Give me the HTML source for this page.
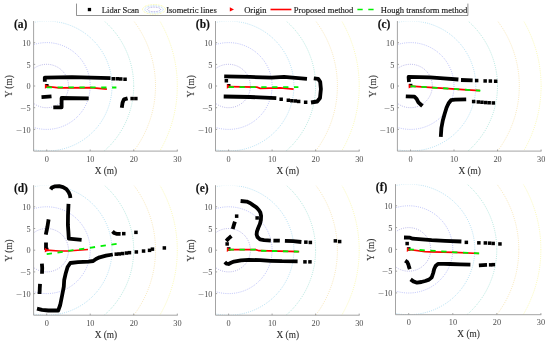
<!DOCTYPE html>
<html><head><meta charset="utf-8"><title>Lidar scan figure</title>
<style>
html,body{margin:0;padding:0;background:#fff;}
svg{display:block;}
text{font-family:"Liberation Serif",serif;}
.t{font-size:8.3px;fill:#4c4c4c;}
.l{font-size:9.3px;fill:#333;stroke:#333;stroke-width:0.12;}
.b{font-size:11.5px;font-weight:bold;fill:#111;stroke:#111;stroke-width:0.15;}
.lg{font-size:8.55px;fill:#1a1a1a;stroke:#1a1a1a;stroke-width:0.15;}
.ax{fill:none;stroke:#9a9a9a;stroke-width:0.9;}
.iso{fill:none;stroke-width:0.6;stroke-dasharray:1 1.2;opacity:0.62;}
.w{fill:none;stroke:#000;stroke-width:3.8;stroke-linejoin:round;stroke-linecap:butt;}
.s{fill:#000;}
.r{fill:none;stroke:#ff0000;stroke-width:1.7;}
.g{fill:none;stroke:#00f000;stroke-width:1.8;stroke-dasharray:5.3 5.6;}
</style></head><body>
<svg width="550" height="344" viewBox="0 0 550 344">
<rect width="550" height="344" fill="#fff"/>
<defs><clipPath id="c00"><rect x="33.6" y="21.5" width="144.6" height="129.6"/></clipPath><clipPath id="c01"><rect x="33.6" y="185.7" width="144.6" height="129.6"/></clipPath><clipPath id="c10"><rect x="215.5" y="21.5" width="144.6" height="129.6"/></clipPath><clipPath id="c11"><rect x="215.5" y="185.7" width="144.6" height="129.6"/></clipPath><clipPath id="c20"><rect x="397.4" y="21.5" width="144.6" height="129.6"/></clipPath><clipPath id="c21"><rect x="395.5" y="184.6" width="146.4" height="130.2"/></clipPath></defs>
<g clip-path="url(#c00)">
<ellipse class="iso" cx="46.7" cy="86.0" rx="21.8" ry="21.7" stroke="#4a44c6"/>
<ellipse class="iso" cx="46.7" cy="86.0" rx="43.5" ry="43.4" stroke="#5260ee"/>
<ellipse class="iso" cx="46.7" cy="86.0" rx="65.3" ry="65.0" stroke="#40b0e0"/>
<ellipse class="iso" cx="46.7" cy="86.0" rx="87.0" ry="86.7" stroke="#3cc0aa"/>
<ellipse class="iso" cx="46.7" cy="86.0" rx="108.8" ry="108.4" stroke="#ecc046"/>
<ellipse class="iso" cx="46.7" cy="86.0" rx="130.6" ry="130.1" stroke="#f2ee3a"/>
</g>
<path class="ax" d="M33.6 21.0V151.1H177.7"/>
<path class="ax" d="M46.7 151.1v-1.6M90.2 151.1v-1.6M133.7 151.1v-1.6M177.3 151.1v-1.6M33.6 129.4h1.6M33.6 107.7h1.6M33.6 86.0h1.6M33.6 64.4h1.6M33.6 42.7h1.6"/>
<text class="t" text-anchor="middle" x="46.8" y="161.8">0</text>
<text class="t" text-anchor="middle" x="90.3" y="161.8">10</text>
<text class="t" text-anchor="middle" x="133.8" y="161.8">20</text>
<text class="t" text-anchor="middle" x="177.4" y="161.8">30</text>
<text class="t" text-anchor="end" x="30.6" y="132.6">10</text>
<text class="t" text-anchor="end" transform="translate(22.4 132.6) scale(1.3 1)">−</text>
<text class="t" text-anchor="end" x="30.6" y="110.9">5</text>
<text class="t" text-anchor="end" transform="translate(26.6 110.9) scale(1.3 1)">−</text>
<text class="t" text-anchor="end" x="30.6" y="89.2">0</text>
<text class="t" text-anchor="end" x="30.6" y="67.6">5</text>
<text class="t" text-anchor="end" x="30.6" y="45.9">10</text>
<text class="l" text-anchor="middle" x="105.9" y="173.6">X (m)</text>
<text class="l" text-anchor="middle" transform="translate(12.0 86.3) rotate(-90)">Y (m)</text>
<text class="b" x="13.9" y="28.0">(a)</text>
<polyline class="w" points="44.8,81.8 44.8,77.6 72.0,77.2 110.5,78.2"/>
<rect class="s" x="111.5" y="77.0" width="3.5" height="3.5"/><rect class="s" x="115.5" y="77.0" width="3.5" height="3.5"/><rect class="s" x="119.0" y="77.2" width="3.5" height="3.5"/><rect class="s" x="123.3" y="77.5" width="3.5" height="3.5"/>
<polyline class="w" points="41.5,97.2 51.5,96.4"/>
<polyline class="w" points="53.3,107.3 61.6,107.3 61.6,98.0 88.7,98.3"/>
<polyline class="w" points="121.8,107.8 122.6,102.5 124.0,99.4 127.6,98.4"/>
<rect class="s" x="130.4" y="96.8" width="3.5" height="3.5"/><rect class="s" x="134.1" y="96.8" width="3.5" height="3.5"/>
<rect class="s" x="45.1" y="84.0" width="3.5" height="3.5"/>
<path fill="#ff0000" d="M44.9 84.1l3.8 2.3l-3.8 2.3z"/>
<polyline class="r" points="46.7,86.4 58.9,87.9 90.9,87.7 106.9,89.2"/>
<polyline class="g" points="46.7,87.4 116.4,87.5"/>
<g clip-path="url(#c10)">
<ellipse class="iso" cx="228.6" cy="86.0" rx="21.8" ry="21.7" stroke="#4a44c6"/>
<ellipse class="iso" cx="228.6" cy="86.0" rx="43.5" ry="43.4" stroke="#5260ee"/>
<ellipse class="iso" cx="228.6" cy="86.0" rx="65.3" ry="65.0" stroke="#40b0e0"/>
<ellipse class="iso" cx="228.6" cy="86.0" rx="87.0" ry="86.7" stroke="#3cc0aa"/>
<ellipse class="iso" cx="228.6" cy="86.0" rx="108.8" ry="108.4" stroke="#ecc046"/>
<ellipse class="iso" cx="228.6" cy="86.0" rx="130.6" ry="130.1" stroke="#f2ee3a"/>
</g>
<path class="ax" d="M215.5 21.0V151.1H359.6"/>
<path class="ax" d="M228.6 151.1v-1.6M272.1 151.1v-1.6M315.6 151.1v-1.6M359.2 151.1v-1.6M215.5 129.4h1.6M215.5 107.7h1.6M215.5 86.0h1.6M215.5 64.4h1.6M215.5 42.7h1.6"/>
<text class="t" text-anchor="middle" x="228.7" y="161.8">0</text>
<text class="t" text-anchor="middle" x="272.2" y="161.8">10</text>
<text class="t" text-anchor="middle" x="315.7" y="161.8">20</text>
<text class="t" text-anchor="middle" x="359.3" y="161.8">30</text>
<text class="t" text-anchor="end" x="212.5" y="132.6">10</text>
<text class="t" text-anchor="end" transform="translate(204.3 132.6) scale(1.3 1)">−</text>
<text class="t" text-anchor="end" x="212.5" y="110.9">5</text>
<text class="t" text-anchor="end" transform="translate(208.5 110.9) scale(1.3 1)">−</text>
<text class="t" text-anchor="end" x="212.5" y="89.2">0</text>
<text class="t" text-anchor="end" x="212.5" y="67.6">5</text>
<text class="t" text-anchor="end" x="212.5" y="45.9">10</text>
<text class="l" text-anchor="middle" x="287.8" y="173.6">X (m)</text>
<text class="l" text-anchor="middle" transform="translate(193.9 86.3) rotate(-90)">Y (m)</text>
<text class="b" x="195.8" y="28.0">(b)</text>
<polyline class="w" points="224.2,76.3 250.0,76.9 271.7,77.6 284.0,76.9 307.0,78.8"/>
<rect class="s" x="224.6" y="79.0" width="3.5" height="3.5"/>
<polyline class="w" points="223.7,96.5 250.0,97.0 276.3,98.1"/>
<rect class="s" x="279.4" y="97.5" width="3.5" height="3.5"/><rect class="s" x="286.6" y="98.5" width="3.5" height="3.5"/><rect class="s" x="290.1" y="99.0" width="3.5" height="3.5"/><rect class="s" x="293.6" y="99.2" width="3.5" height="3.5"/><rect class="s" x="296.9" y="99.7" width="3.5" height="3.5"/><rect class="s" x="303.9" y="100.5" width="3.5" height="3.5"/>
<polyline class="w" points="311.0,102.5 317.2,101.5 320.0,98.0 320.9,89.0 320.2,81.8 318.2,78.9 313.8,78.4"/>
<rect class="s" x="227.0" y="84.0" width="3.5" height="3.5"/>
<path fill="#ff0000" d="M226.8 84.1l3.8 2.3l-3.8 2.3z"/>
<polyline class="r" points="228.6,86.7 256.9,87.2 260.1,88.3 280.2,87.9 293.6,89.2"/>
<polyline class="g" points="228.6,87.1 298.4,87.2"/>
<g clip-path="url(#c20)">
<ellipse class="iso" cx="410.5" cy="86.0" rx="21.8" ry="21.7" stroke="#4a44c6"/>
<ellipse class="iso" cx="410.5" cy="86.0" rx="43.5" ry="43.4" stroke="#5260ee"/>
<ellipse class="iso" cx="410.5" cy="86.0" rx="65.3" ry="65.0" stroke="#40b0e0"/>
<ellipse class="iso" cx="410.5" cy="86.0" rx="87.0" ry="86.7" stroke="#3cc0aa"/>
<ellipse class="iso" cx="410.5" cy="86.0" rx="108.8" ry="108.4" stroke="#ecc046"/>
<ellipse class="iso" cx="410.5" cy="86.0" rx="130.6" ry="130.1" stroke="#f2ee3a"/>
</g>
<path class="ax" d="M397.4 21.0V151.1H541.5"/>
<path class="ax" d="M410.5 151.1v-1.6M454.0 151.1v-1.6M497.5 151.1v-1.6M541.1 151.1v-1.6M397.4 129.4h1.6M397.4 107.7h1.6M397.4 86.0h1.6M397.4 64.4h1.6M397.4 42.7h1.6"/>
<text class="t" text-anchor="middle" x="410.6" y="161.8">0</text>
<text class="t" text-anchor="middle" x="454.1" y="161.8">10</text>
<text class="t" text-anchor="middle" x="497.6" y="161.8">20</text>
<text class="t" text-anchor="middle" x="541.2" y="161.8">30</text>
<text class="t" text-anchor="end" x="394.4" y="132.6">10</text>
<text class="t" text-anchor="end" transform="translate(386.2 132.6) scale(1.3 1)">−</text>
<text class="t" text-anchor="end" x="394.4" y="110.9">5</text>
<text class="t" text-anchor="end" transform="translate(390.4 110.9) scale(1.3 1)">−</text>
<text class="t" text-anchor="end" x="394.4" y="89.2">0</text>
<text class="t" text-anchor="end" x="394.4" y="67.6">5</text>
<text class="t" text-anchor="end" x="394.4" y="45.9">10</text>
<text class="l" text-anchor="middle" x="469.7" y="173.6">X (m)</text>
<text class="l" text-anchor="middle" transform="translate(375.8 86.3) rotate(-90)">Y (m)</text>
<text class="b" x="377.7" y="28.0">(c)</text>
<polyline class="w" points="409.0,82.0 408.6,76.8 430.0,77.4 443.6,78.4 458.4,79.5"/>
<polyline class="w" points="461.0,80.0 472.6,80.4"/>
<rect class="s" x="474.9" y="78.8" width="3.5" height="3.5"/><rect class="s" x="483.4" y="79.2" width="3.5" height="3.5"/><rect class="s" x="488.6" y="79.3" width="3.5" height="3.5"/><rect class="s" x="493.9" y="79.5" width="3.5" height="3.5"/>
<polyline class="w" points="405.8,96.3 414.4,96.7 416.6,98.8 418.4,102.3 422.4,106.0"/>
<polyline class="w" points="440.8,136.8 441.4,128.0 442.8,120.5 444.6,114.0 446.6,107.5 448.6,103.2 451.0,100.2 455.0,99.6 466.2,99.4"/>
<rect class="s" x="471.9" y="99.8" width="3.5" height="3.5"/><rect class="s" x="476.6" y="100.2" width="3.5" height="3.5"/><rect class="s" x="480.2" y="100.5" width="3.5" height="3.5"/><rect class="s" x="483.9" y="100.8" width="3.5" height="3.5"/><rect class="s" x="487.4" y="101.0" width="3.5" height="3.5"/><rect class="s" x="491.6" y="101.2" width="3.5" height="3.5"/>
<rect class="s" x="408.9" y="83.8" width="3.5" height="3.5"/>
<path fill="#ff0000" d="M408.7 83.9l3.8 2.3l-3.8 2.3z"/>
<polyline class="r" points="410.5,86.2 448.6,88.6 463.0,89.6 480.0,90.7"/>
<polyline class="g" points="410.5,86.2 448.6,88.6 463.0,89.6 480.4,90.7"/>
<g clip-path="url(#c01)">
<ellipse class="iso" cx="46.7" cy="250.2" rx="21.8" ry="21.7" stroke="#4a44c6"/>
<ellipse class="iso" cx="46.7" cy="250.2" rx="43.5" ry="43.4" stroke="#5260ee"/>
<ellipse class="iso" cx="46.7" cy="250.2" rx="65.3" ry="65.0" stroke="#40b0e0"/>
<ellipse class="iso" cx="46.7" cy="250.2" rx="87.0" ry="86.7" stroke="#3cc0aa"/>
<ellipse class="iso" cx="46.7" cy="250.2" rx="108.8" ry="108.4" stroke="#ecc046"/>
<ellipse class="iso" cx="46.7" cy="250.2" rx="130.6" ry="130.1" stroke="#f2ee3a"/>
</g>
<path class="ax" d="M33.6 185.2V315.2H177.7"/>
<path class="ax" d="M46.7 315.2v-1.6M90.2 315.2v-1.6M133.7 315.2v-1.6M177.3 315.2v-1.6M33.6 293.6h1.6M33.6 271.9h1.6M33.6 250.2h1.6M33.6 228.5h1.6M33.6 206.8h1.6"/>
<text class="t" text-anchor="middle" x="46.8" y="325.9">0</text>
<text class="t" text-anchor="middle" x="90.3" y="325.9">10</text>
<text class="t" text-anchor="middle" x="133.8" y="325.9">20</text>
<text class="t" text-anchor="middle" x="177.4" y="325.9">30</text>
<text class="t" text-anchor="end" x="30.6" y="296.8">10</text>
<text class="t" text-anchor="end" transform="translate(22.4 296.8) scale(1.3 1)">−</text>
<text class="t" text-anchor="end" x="30.6" y="275.1">5</text>
<text class="t" text-anchor="end" transform="translate(26.6 275.1) scale(1.3 1)">−</text>
<text class="t" text-anchor="end" x="30.6" y="253.4">0</text>
<text class="t" text-anchor="end" x="30.6" y="231.7">5</text>
<text class="t" text-anchor="end" x="30.6" y="210.0">10</text>
<text class="l" text-anchor="middle" x="105.9" y="337.7">X (m)</text>
<text class="l" text-anchor="middle" transform="translate(12.0 250.5) rotate(-90)">Y (m)</text>
<text class="b" x="13.9" y="192.2">(d)</text>
<polyline class="w" points="50.6,189.4 52.0,187.5 54.5,186.4 59.2,186.1 63.0,187.1 66.4,189.2 68.8,192.4 70.0,195.2 70.4,198.0"/>
<polyline class="w" points="68.5,203.8 68.0,215.0 67.9,225.0 68.4,232.0 68.8,238.6 81.6,239.8"/>
<polyline class="w" points="48.6,219.4 47.4,227.0 45.8,234.6"/>
<polyline class="w" points="46.0,242.5 46.0,249.8"/>
<polyline class="w" points="37.0,308.6 42.0,309.8 48.3,310.5 58.2,310.5 60.2,305.0 62.2,295.0 63.8,286.6 64.2,280.0 65.6,273.8 67.6,267.0 70.3,263.0 78.0,262.2 88.6,261.6 93.2,261.0 96.0,259.0 99.6,257.3 106.0,255.7 112.8,254.5"/>
<rect class="s" x="114.5" y="252.4" width="3.5" height="3.5"/><rect class="s" x="117.5" y="252.2" width="3.5" height="3.5"/><rect class="s" x="120.8" y="251.8" width="3.5" height="3.5"/><rect class="s" x="124.7" y="251.3" width="3.5" height="3.5"/><rect class="s" x="127.7" y="250.9" width="3.5" height="3.5"/><rect class="s" x="134.6" y="250.2" width="3.5" height="3.5"/><rect class="s" x="141.8" y="249.3" width="3.5" height="3.5"/><rect class="s" x="147.8" y="248.6" width="3.5" height="3.5"/><rect class="s" x="150.7" y="247.4" width="3.5" height="3.5"/><rect class="s" x="162.6" y="246.2" width="3.5" height="3.5"/>
<polyline class="w" points="41.9,263.7 42.2,268.0 42.0,273.8"/>
<polyline class="w" points="40.0,283.9 39.5,294.0"/>
<polyline class="w" points="112.5,231.4 114.2,233.0 116.4,233.8 120.6,233.9"/>
<rect class="s" x="122.0" y="231.9" width="3.5" height="3.5"/><rect class="s" x="134.2" y="230.6" width="3.5" height="3.5"/>
<rect class="s" x="45.0" y="247.7" width="3.5" height="3.5"/>
<path fill="#ff0000" d="M44.8 247.8l3.8 2.3l-3.8 2.3z"/>
<polyline class="r" points="46.7,250.1 58.9,251.0 67.6,251.0 88.0,249.5"/>
<polyline class="g" points="46.7,254.2 117.1,243.7"/>
<g clip-path="url(#c11)">
<ellipse class="iso" cx="228.6" cy="250.2" rx="21.8" ry="21.7" stroke="#4a44c6"/>
<ellipse class="iso" cx="228.6" cy="250.2" rx="43.5" ry="43.4" stroke="#5260ee"/>
<ellipse class="iso" cx="228.6" cy="250.2" rx="65.3" ry="65.0" stroke="#40b0e0"/>
<ellipse class="iso" cx="228.6" cy="250.2" rx="87.0" ry="86.7" stroke="#3cc0aa"/>
<ellipse class="iso" cx="228.6" cy="250.2" rx="108.8" ry="108.4" stroke="#ecc046"/>
<ellipse class="iso" cx="228.6" cy="250.2" rx="130.6" ry="130.1" stroke="#f2ee3a"/>
</g>
<path class="ax" d="M215.5 185.2V315.2H359.6"/>
<path class="ax" d="M228.6 315.2v-1.6M272.1 315.2v-1.6M315.6 315.2v-1.6M359.2 315.2v-1.6M215.5 293.6h1.6M215.5 271.9h1.6M215.5 250.2h1.6M215.5 228.5h1.6M215.5 206.8h1.6"/>
<text class="t" text-anchor="middle" x="228.7" y="325.9">0</text>
<text class="t" text-anchor="middle" x="272.2" y="325.9">10</text>
<text class="t" text-anchor="middle" x="315.7" y="325.9">20</text>
<text class="t" text-anchor="middle" x="359.3" y="325.9">30</text>
<text class="t" text-anchor="end" x="212.5" y="296.8">10</text>
<text class="t" text-anchor="end" transform="translate(204.3 296.8) scale(1.3 1)">−</text>
<text class="t" text-anchor="end" x="212.5" y="275.1">5</text>
<text class="t" text-anchor="end" transform="translate(208.5 275.1) scale(1.3 1)">−</text>
<text class="t" text-anchor="end" x="212.5" y="253.4">0</text>
<text class="t" text-anchor="end" x="212.5" y="231.7">5</text>
<text class="t" text-anchor="end" x="212.5" y="210.0">10</text>
<text class="l" text-anchor="middle" x="287.8" y="337.7">X (m)</text>
<text class="l" text-anchor="middle" transform="translate(193.9 250.5) rotate(-90)">Y (m)</text>
<text class="b" x="195.8" y="192.2">(e)</text>
<polyline class="w" points="240.6,201.0 246.8,201.6 250.4,203.2 253.4,205.4 256.4,207.4 258.8,210.0 260.4,212.6 261.1,216.0 260.9,220.0 260.0,223.8 258.2,228.0 256.9,231.7 256.6,234.4 257.4,237.0 260.0,239.4 264.0,240.2 270.8,240.6"/>
<rect class="s" x="255.4" y="216.2" width="3.5" height="3.5"/>
<polyline class="w" points="273.4,240.6 279.8,240.7"/>
<polyline class="w" points="284.9,240.9 293.0,241.2 301.4,242.0"/>
<rect class="s" x="304.1" y="240.4" width="3.5" height="3.5"/><rect class="s" x="308.6" y="240.7" width="3.5" height="3.5"/><rect class="s" x="333.6" y="239.1" width="3.5" height="3.5"/><rect class="s" x="337.9" y="239.8" width="3.5" height="3.5"/>
<rect class="s" x="234.9" y="214.4" width="3.5" height="3.5"/>
<polyline class="w" points="234.9,221.6 232.7,229.0"/>
<polyline class="w" points="231.4,236.0 228.4,238.6 226.2,241.0"/>
<rect class="s" x="225.4" y="242.2" width="3.5" height="3.5"/>
<polyline class="w" points="224.8,262.0 226.4,263.6 228.6,264.0 231.0,262.8 234.0,261.6 241.0,260.4 248.6,259.8 260.0,260.2 270.6,260.8 282.0,261.2 297.6,261.4"/>
<rect class="s" x="303.2" y="260.1" width="3.5" height="3.5"/><rect class="s" x="308.2" y="260.1" width="3.5" height="3.5"/>
<rect class="s" x="227.0" y="247.2" width="3.5" height="3.5"/>
<path fill="#ff0000" d="M226.8 247.3l3.8 2.3l-3.8 2.3z"/>
<polyline class="r" points="228.6,249.6 255.5,249.6 259.1,250.7 299.2,251.6"/>
<polyline class="g" points="228.6,249.6 255.5,249.6 259.1,250.7 298.6,251.6"/>
<g clip-path="url(#c21)">
<ellipse class="iso" cx="408.7" cy="249.4" rx="22.0" ry="21.8" stroke="#4a44c6"/>
<ellipse class="iso" cx="408.7" cy="249.4" rx="44.1" ry="43.6" stroke="#5260ee"/>
<ellipse class="iso" cx="408.7" cy="249.4" rx="66.1" ry="65.3" stroke="#40b0e0"/>
<ellipse class="iso" cx="408.7" cy="249.4" rx="88.1" ry="87.1" stroke="#3cc0aa"/>
<ellipse class="iso" cx="408.7" cy="249.4" rx="110.1" ry="108.9" stroke="#ecc046"/>
<ellipse class="iso" cx="408.7" cy="249.4" rx="132.2" ry="130.7" stroke="#f2ee3a"/>
</g>
<path class="ax" d="M395.5 184.1V314.7H541.3"/>
<path class="ax" d="M408.7 314.7v-1.6M452.8 314.7v-1.6M496.8 314.7v-1.6M540.9 314.7v-1.6M395.5 292.9h1.6M395.5 271.2h1.6M395.5 249.4h1.6M395.5 227.6h1.6M395.5 205.8h1.6"/>
<text class="t" text-anchor="middle" x="408.8" y="325.4">0</text>
<text class="t" text-anchor="middle" x="452.9" y="325.4">10</text>
<text class="t" text-anchor="middle" x="496.9" y="325.4">20</text>
<text class="t" text-anchor="middle" x="541.0" y="325.4">30</text>
<text class="t" text-anchor="end" x="392.5" y="296.1">10</text>
<text class="t" text-anchor="end" transform="translate(384.3 296.1) scale(1.3 1)">−</text>
<text class="t" text-anchor="end" x="392.5" y="274.4">5</text>
<text class="t" text-anchor="end" transform="translate(388.4 274.4) scale(1.3 1)">−</text>
<text class="t" text-anchor="end" x="392.5" y="252.6">0</text>
<text class="t" text-anchor="end" x="392.5" y="230.8">5</text>
<text class="t" text-anchor="end" x="392.5" y="209.0">10</text>
<text class="l" text-anchor="middle" x="468.6" y="337.2">X (m)</text>
<text class="l" text-anchor="middle" transform="translate(373.9 249.7) rotate(-90)">Y (m)</text>
<text class="b" x="375.8" y="191.1">(f)</text>
<polyline class="w" points="404.0,237.5 410.0,237.7 412.7,238.7 422.0,239.4 431.6,240.2 445.0,240.8 461.4,241.5"/>
<rect class="s" x="464.6" y="240.6" width="3.5" height="3.5"/><rect class="s" x="477.1" y="241.1" width="3.5" height="3.5"/><rect class="s" x="483.6" y="241.2" width="3.5" height="3.5"/><rect class="s" x="487.8" y="241.4" width="3.5" height="3.5"/><rect class="s" x="491.4" y="241.7" width="3.5" height="3.5"/><rect class="s" x="498.2" y="242.2" width="3.5" height="3.5"/>
<rect class="s" x="405.4" y="241.8" width="3.5" height="3.5"/>
<polyline class="w" points="405.2,260.6 407.2,262.0 408.4,264.6 409.0,267.0 409.8,269.2"/>
<polyline class="w" points="410.6,279.4 413.4,281.4 417.0,282.7 421.4,282.0 425.2,281.0 429.0,279.6 431.8,277.2 433.2,273.0 434.2,269.0 435.6,266.0 438.0,263.9 444.0,263.8 450.0,264.0 460.0,264.4 470.4,264.6"/>
<polyline class="w" points="478.9,265.3 487.0,264.9"/>
<rect class="s" x="488.9" y="263.1" width="3.5" height="3.5"/><rect class="s" x="491.6" y="262.9" width="3.5" height="3.5"/>
<rect class="s" x="407.0" y="247.2" width="3.5" height="3.5"/>
<path fill="#ff0000" d="M406.8 247.3l3.8 2.3l-3.8 2.3z"/>
<polyline class="r" points="408.6,249.5 425.1,251.7 430.2,251.8 454.9,252.4 478.9,253.5"/>
<polyline class="g" points="408.6,249.4 436.0,250.9 454.9,252.3 479.3,253.4"/>
<path d="M76.5 3.6V15.5H467.9V3.6" fill="#fff" stroke="#4a4a4a" stroke-width="0.6"/>
<rect class="s" x="87.8" y="7.9" width="3.3" height="3.3"/>
<text class="lg" x="101.8" y="12.8">Lidar Scan</text>
<ellipse cx="154" cy="9.4" rx="11.4" ry="4.8" fill="none" stroke="#f2ee3a" stroke-width="0.5" stroke-dasharray="0.8 0.8"/>
<ellipse cx="154" cy="9.4" rx="9.2" ry="3.6" fill="none" stroke="#6ab8e8" stroke-width="0.5" stroke-dasharray="0.8 0.8"/>
<ellipse cx="154" cy="9.4" rx="6.6" ry="2.3" fill="none" stroke="#5a48c8" stroke-width="0.5" stroke-dasharray="0.8 0.8"/>
<text class="lg" x="166.2" y="12.8">Isometric lines</text>
<path fill="#ff0000" d="M229.8 7.2l4.2 2.2l-4.2 2.2z"/>
<text class="lg" x="244.2" y="12.8">Origin</text>
<path d="M270.5 9.5H291.4" stroke="#ff0000" stroke-width="1.6" fill="none"/>
<text class="lg" x="293.8" y="12.8">Proposed method</text>
<path d="M357.4 9.5h5.3M368.3 9.5h5.3" stroke="#00f000" stroke-width="1.6" fill="none"/>
<text class="lg" x="380.8" y="12.8">Hough transform method</text>
</svg>
</body></html>
